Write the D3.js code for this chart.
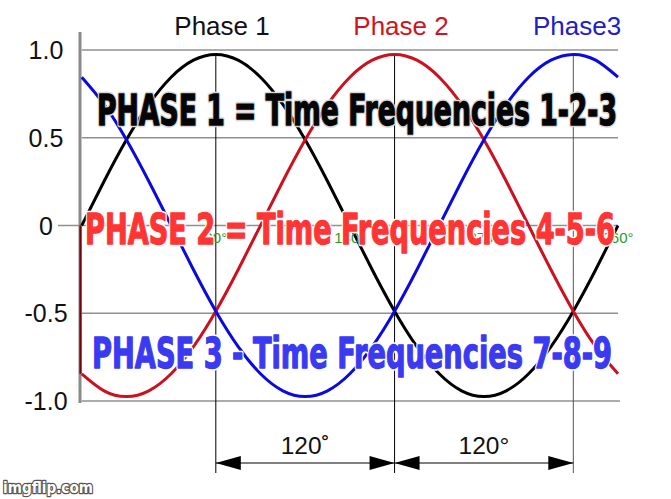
<!DOCTYPE html>
<html>
<head>
<meta charset="utf-8">
<script src="https://cdn.jsdelivr.net/npm/d3@7"></script>
<style>
  html, body { margin: 0; padding: 0; background: #fff; }
  svg { display: block; }
</style>
</head>
<body>
<svg id="chart" width="671" height="499"></svg>
<script>
// angles in degrees, sampled every 15 deg
const angles = [0, 15, 30, 45, 60, 75, 90, 105, 120, 135, 150, 165, 180,
  195, 210, 225, 240, 255, 270, 285, 300, 315, 330, 345, 360];

const phase1 = [0, .252, .488, .69, .845, .942, .975, .942, .845, .69, .488, .252, 0,
  -.252, -.488, -.69, -.845, -.942, -.975, -.942, -.845, -.69, -.488, -.252, 0];
const phase2 = [-.845, -.942, -.975, -.942, -.845, -.69, -.488, -.252, 0, .252, .488, .69, .845,
  .942, .975, .942, .845, .69, .488, .252, 0, -.252, -.488, -.69, -.845];
const phase3 = [.845, .69, .488, .252, 0, -.252, -.488, -.69, -.845, -.942, -.975, -.942, -.845,
  -.69, -.488, -.252, 0, .252, .488, .69, .845, .942, .975, .942, .845];

const yTicks = [1, 0.5, 0, -0.5, -1];
const yTickLabels = ["1.0", "0.5", "0", "-0.5", "-1.0"];

const phaseNames = ["Phase 1", "Phase 2", "Phase3"];
const phasePeaks = [90, 210, 330];

const degreeMarks = [90, 180, 270, 360];
const degreeLabels = ["90°", "180°", "270°", "360°"];

const spans = [[90, 210], [210, 330]];
const spanLabels = ["120˚", "120°"];

const captions = [
  "PHASE 1 = Time Frequencies 1-2-3",
  "PHASE 2 = Time Frequencies 4-5-6",
  "PHASE 3 - Time Frequencies 7-8-9"
];

var svg = d3.select("#chart");

var x = d3.scaleLinear().domain([0, 360]).range([81.75, 618]);
var y = d3.scaleLinear().domain([-1, 1]).range([401, 50]);

const curveColors = ["#000000", "#cc1020", "#0a0ae0"];
const labelColors = ["#111111", "#d0141e", "#2020c8"];
const sansFont = "'Liberation Sans', Arial, sans-serif";

// horizontal grid
svg.append("g").selectAll("line")
  .data(yTicks)
  .join("line")
    .attr("x1", function(d) { return d === 0 ? 58 : x(0); })
    .attr("x2", function(d) { return d === -1 ? 620 : x(360); })
    .attr("y1", function(d) { return y(d); })
    .attr("y2", function(d) { return y(d); })
    .attr("stroke", "#909090")
    .attr("stroke-width", 1.6);

// y axis
svg.append("line")
  .attr("x1", 80).attr("x2", 80)
  .attr("y1", 32).attr("y2", y(-1) + 2)
  .attr("stroke", "#8a8a8a")
  .attr("stroke-width", 3);

svg.append("g").selectAll("text")
  .data(yTicks)
  .join("text")
    .attr("x", 46)
    .attr("y", function(d) { return y(d); })
    .attr("dy", "0.36em")
    .attr("text-anchor", "middle")
    .attr("font-family", sansFont)
    .attr("font-size", 25)
    .attr("fill", "#111")
    .text(function(d, i) { return yTickLabels[i]; });

// vertical lines through peaks
svg.append("g").selectAll("line")
  .data(phasePeaks)
  .join("line")
    .attr("x1", function(d) { return x(d); })
    .attr("x2", function(d) { return x(d); })
    .attr("y1", y(0.975))
    .attr("y2", 473)
    .attr("stroke", function(d, i) { return i === 2 ? "#555" : "#000"; })
    .attr("stroke-width", 1);

// left edge of phase 2
svg.append("line")
  .attr("x1", 80.5).attr("x2", 80.5)
  .attr("y1", y(0)).attr("y2", y(phase2[0]))
  .attr("stroke", "#7a0008")
  .attr("stroke-width", 2.2);

// sine curves
var line = d3.line()
  .x(function(d) { return x(d[0]); })
  .y(function(d) { return y(d[1]); })
  .curve(d3.curveNatural);

[phase1, phase2, phase3].forEach(function(series, i) {
  svg.append("path")
    .datum(angles.map(function(a, j) { return [a, series[j]]; }))
    .attr("d", line)
    .attr("fill", "none")
    .attr("stroke", curveColors[i])
    .attr("stroke-width", 3);
});

// green degree labels
svg.append("g").selectAll("text")
  .data(degreeMarks)
  .join("text")
    .attr("x", function(d) { return x(d); })
    .attr("y", 243)
    .attr("text-anchor", "middle")
    .attr("font-family", sansFont)
    .attr("font-size", 15)
    .attr("fill", "#2a9a2a")
    .text(function(d, i) { return degreeLabels[i]; });

// phase labels on top
svg.append("g").selectAll("text")
  .data(phaseNames)
  .join("text")
    .attr("x", function(d, i) { return [222, 401, 577][i]; })
    .attr("y", 35)
    .attr("text-anchor", "middle")
    .attr("font-family", sansFont)
    .attr("font-size", 26)
    .attr("fill", function(d, i) { return labelColors[i]; })
    .text(function(d) { return d; });

// 120 degree spans
var dimY = 463;
var spanG = svg.append("g");
spans.forEach(function(s, i) {
  var a = x(s[0]), b = x(s[1]);
  spanG.append("line")
    .attr("x1", a).attr("x2", b)
    .attr("y1", dimY).attr("y2", dimY)
    .attr("stroke", "#000").attr("stroke-width", 1);
  spanG.append("path")
    .attr("d", "M" + a + "," + dimY + "L" + (a + 25) + "," + (dimY - 7) + "L" + (a + 25) + "," + (dimY + 7) + "Z")
    .attr("fill", "#000");
  spanG.append("path")
    .attr("d", "M" + b + "," + dimY + "L" + (b - 25) + "," + (dimY - 7) + "L" + (b - 25) + "," + (dimY + 7) + "Z")
    .attr("fill", "#000");
  spanG.append("text")
    .attr("x", (a + b) / 2)
    .attr("y", 454)
    .attr("text-anchor", "middle")
    .attr("font-family", sansFont)
    .attr("font-size", 24.5)
    .attr("fill", "#111")
    .text(spanLabels[i]);
});

// big overlay captions: a white halo layer, then a heavy coloured layer
var capLayout = [
  { x0: 97, x1: 617, base: 125, fill: "#050505", halo: "#d8d8d8" },
  { x0: 85, x1: 615, base: 244, fill: "#ff3535", halo: "#ffffff" },
  { x0: 92, x1: 612, base: 368, fill: "#3a3af2", halo: "#ffffff" }
];
function captionLayer(cls) {
  return svg.append("g").selectAll("text." + cls)
    .data(captions)
    .join("text")
      .attr("class", cls)
      .attr("x", function(d, i) { return capLayout[i].x0; })
      .attr("y", function(d, i) { return capLayout[i].base; })
      .attr("textLength", function(d, i) { return capLayout[i].x1 - capLayout[i].x0; })
      .attr("lengthAdjust", "spacingAndGlyphs")
      .attr("font-family", "'DejaVu Sans Condensed', 'DejaVu Sans', sans-serif")
      .attr("font-weight", "bold")
      .attr("font-size", 43)
      .attr("stroke-linejoin", "round")
      .text(function(d) { return d; });
}
captionLayer("halo")
  .attr("fill", "none")
  .attr("stroke", function(d, i) { return capLayout[i].halo; })
  .attr("stroke-width", 4.5);
captionLayer("cap")
  .attr("fill", function(d, i) { return capLayout[i].fill; })
  .attr("stroke", function(d, i) { return capLayout[i].fill; })
  .attr("stroke-width", 1.3);

// watermark
svg.append("text")
  .attr("x", 3)
  .attr("y", 493)
  .attr("font-family", "'DejaVu Sans', sans-serif")
  .attr("font-weight", "bold")
  .attr("font-size", 15)
  .attr("textLength", 90)
  .attr("lengthAdjust", "spacingAndGlyphs")
  .attr("fill", "#ffffff")
  .attr("stroke", "#555")
  .attr("stroke-width", 2.5)
  .attr("stroke-linejoin", "round")
  .attr("paint-order", "stroke")
  .text("imgflip.com");
</script>
</body>
</html>
